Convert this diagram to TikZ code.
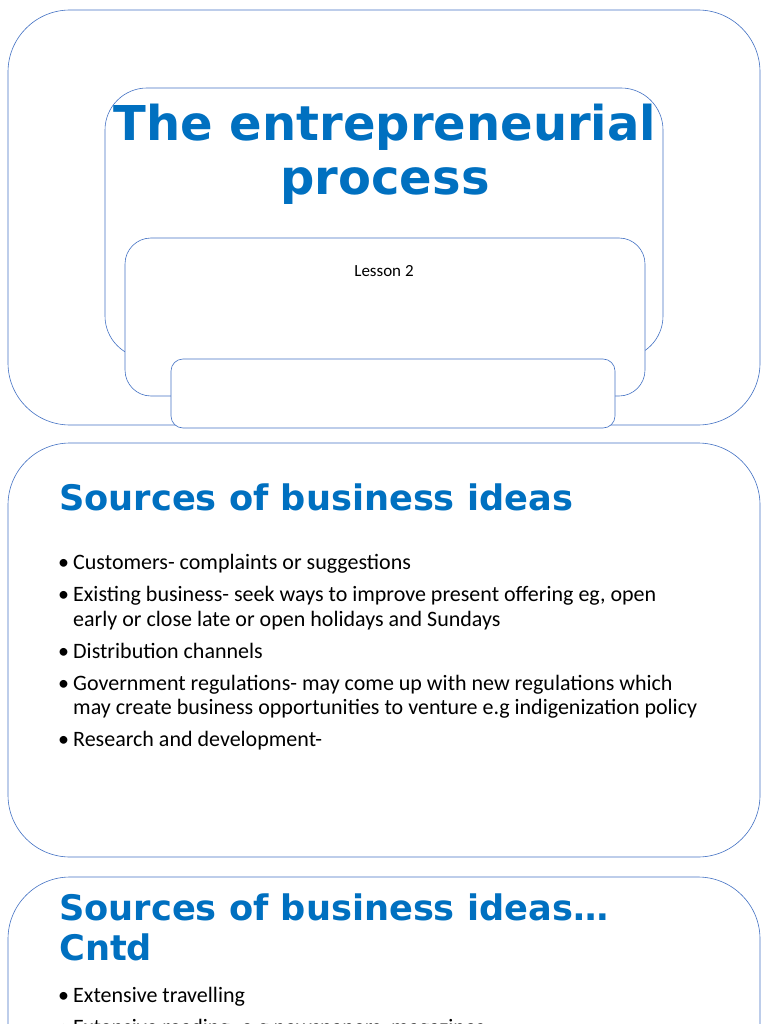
\documentclass[tikz,border=0pt]{standalone}
\usepackage{fontspec}
\setmainfont{Carlito}
\newfontfamily\titlefont{DejaVu Sans}
\definecolor{ttl}{RGB}{0,112,192}
\definecolor{edge}{RGB}{68,114,196}
\begin{document}
\begin{tikzpicture}[x=1pt,y=-1pt,
  box/.style={draw=edge,line width=0.6pt,fill=white},
  ttltext/.style={font=\titlefont\bfseries,text=ttl,inner sep=0},
  bl/.style={anchor=base west,inner sep=0,font=\fontsize{22}{25}\selectfont},
  dot/.style={anchor=base west,inner sep=0,font=\fontsize{22}{25}\selectfont}]
\useasboundingbox (0,0) rectangle (768,1024);
\clip (0,0) rectangle (768,1024);
\fill[white] (0,0) rectangle (768,1024);
\draw[box,rounded corners=62pt] (8,10) rectangle (760,425);
\draw[box,rounded corners=42pt] (105,88) rectangle (663,358);
\draw[box,rounded corners=26pt] (125,238) rectangle (645,396);
\draw[box,rounded corners=12pt] (171,359) rectangle (615,428);
\node[ttltext,align=center,font=\titlefont\bfseries\fontsize{48}{54}\selectfont] (t1) at (385,154) {The entrepreneurial\\process};
\node[inner sep=0,font=\fontsize{17}{20}\selectfont] (l2) at (384,271) {Lesson 2};
\draw[box,rounded corners=62pt] (8,443) rectangle (760,857);
\node[ttltext,anchor=west,font=\titlefont\bfseries\fontsize{35.2}{40}\selectfont] (t2) at (59,497) {Sources of business ideas};
\node[dot] (d1) at (58,569) {•};
\node[bl] (a1) at (73,569) {Customers- complaints or suggestions};
\node[dot] (d2) at (58,601) {•};
\node[bl] (a2) at (73,601) {Existing business- seek ways to improve present offering eg, open};
\node[bl] (a3) at (73,626) {early or close late or open holidays and Sundays};
\node[dot] (d3) at (58,658) {•};
\node[bl] (a4) at (73,658) {Distribution channels};
\node[dot] (d4) at (58,690) {•};
\node[bl] (a5) at (73,690) {Government regulations- may come up with new regulations which};
\node[bl] (a6) at (73,714) {may create business opportunities to venture e.g indigenization policy};
\node[dot] (d5) at (58,746) {•};
\node[bl] (a7) at (73,746) {Research and development-};
\draw[box,rounded corners=62pt] (8,877) rectangle (760,1120);
\node[ttltext,anchor=north west,align=left,font=\titlefont\bfseries\fontsize{35.2}{40}\selectfont] (t3) at (59,894) {Sources of business ideas…\\Cntd};
\node[dot] (d6) at (58,1002) {•};
\node[bl] (c1) at (73,1002) {Extensive travelling};
\node[dot] (d7) at (58,1034) {•};
\node[bl] (c2) at (73,1034) {Extensive reading- e.g newspapers, magazines};
\end{tikzpicture}
\end{document}
